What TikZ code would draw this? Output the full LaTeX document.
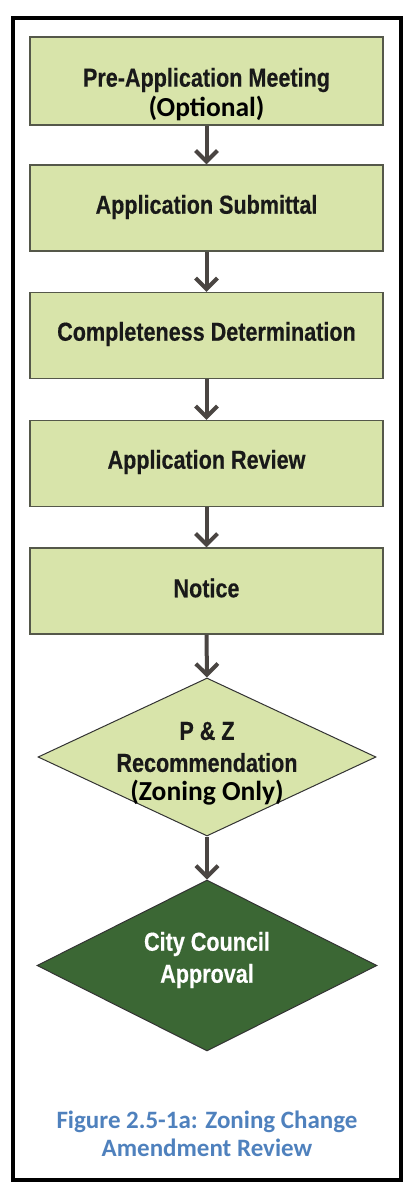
\documentclass[tikz,border=0pt]{standalone}
\usepackage{fontspec}
\usetikzlibrary{shapes.geometric,arrows.meta}
\newfontfamily\condfont{Liberation Sans}[FakeStretch=0.83,BoldFeatures={FakeBold=0.4}]
\newfontfamily\calfont{Carlito}
\definecolor{boxfill}{HTML}{D8E4AA}
\definecolor{boxline}{HTML}{55584A}
\definecolor{darkgreen}{HTML}{3B6734}
\definecolor{arrowcol}{HTML}{4A4542}
\definecolor{captioncol}{HTML}{4F81BD}
\begin{document}
\begin{tikzpicture}[x=1pt,y=-1pt,
  stepbox/.style={draw=boxline, line width=1.2pt, fill=boxfill, minimum width=353pt, minimum height=86pt, inner sep=0pt},
  maintext/.style={font=\condfont\bfseries\fontsize{26}{32}\selectfont, text=black!90, align=center},
  subtext/.style={font=\calfont\bfseries\fontsize{27.5}{30}\selectfont, text=black, align=center},
  flow/.style={draw=arrowcol, line width=4pt, -{Straight Barb[length=11pt,width=22pt]}},
  decision/.style={diamond, draw=black!80, line width=1pt, inner sep=0pt}
]
\useasboundingbox (0,0) rectangle (411,1190);
\node[draw=black, line width=4pt, minimum width=388pt, minimum height=1162pt, inner sep=0pt] (frame) at (207,599) {};

\node[stepbox, minimum height=88pt] (b1) at (206.5,81) {};
\node[maintext] (t1) at (206.5,80) {Pre-Application Meeting};
\node[subtext] (o1) at (206.5,108) {(Optional)};

\node[stepbox] (b2) at (206.5,208) {};
\node[maintext] (t2) at (206.5,207) {Application Submittal};

\node[stepbox] (b3) at (206.5,335.5) {};
\node[maintext] (t3) at (206.5,334) {Completeness Determination};

\node[stepbox] (b4) at (206.5,463.5) {};
\node[maintext] (t4) at (206.5,462) {Application Review};

\node[stepbox] (b5) at (206.5,591) {};
\node[maintext] (t5) at (206.5,588) {Notice};

\node[decision, fill=boxfill, minimum width=338pt, minimum height=158pt, aspect=2.14] (d1) at (207,757) {};
\node[maintext] (t6) at (207,747) {P \& Z\\Recommendation};
\node[subtext] (o6) at (207,793) {(Zoning Only)};

\node[decision, fill=darkgreen, minimum width=340pt, minimum height=171pt, aspect=1.99] (d2) at (207,965.5) {};
\node[maintext, text=white] (t7) at (207,960) {City Council\\Approval};

\node[font=\calfont\bfseries\fontsize{25}{28.5}\selectfont, text=captioncol, align=center] (cap) at (207,1134) {Figure 2.5-1a: Zoning Change\\Amendment Review};

\draw[flow] (b1.south) -- (b2.north);
\draw[flow] (b2.south) -- (b3.north);
\draw[flow] (b3.south) -- (b4.north);
\draw[flow] (b4.south) -- (b5.north);
\draw[flow] (b5.south) -- (d1.north);
\draw[flow] (d1.south) -- (d2.north);
\end{tikzpicture}
\end{document}
